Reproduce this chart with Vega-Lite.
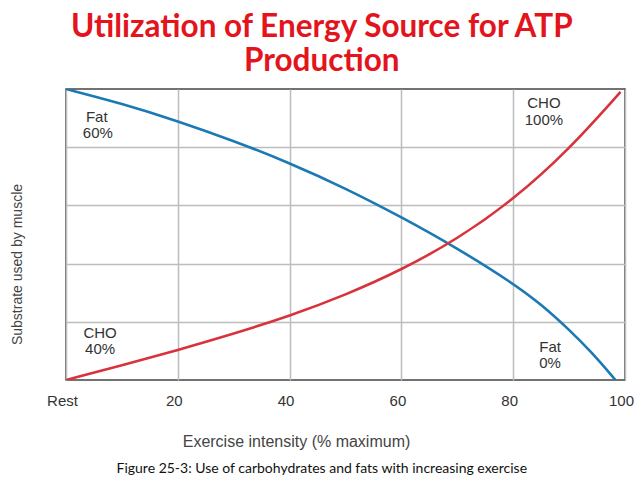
{
  "$schema": "https://vega.github.io/schema/vega-lite/v6.json",
  "background": "white",
  "padding": {"left": 9, "top": 11, "right": 5, "bottom": 0},
  "config": {
    "view": {"stroke": "#444444", "strokeWidth": 1.5},
    "font": "Liberation Sans"
  },
  "title": {
    "text": ["Utilization of Energy Source for ATP", "Production"],
    "font": "Lato",
    "fontSize": 31.5,
    "fontWeight": "bold",
    "color": "#e3141b",
    "lineHeight": 34,
    "anchor": "middle",
    "frame": "bounds",
    "offset": 11
  },
  "datasets": {
    "curves": [
      {"series": "Fat", "x": 0, "y": 100},
      {"series": "Fat", "x": 10, "y": 95.0},
      {"series": "Fat", "x": 20, "y": 89.0},
      {"series": "Fat", "x": 30, "y": 82.2},
      {"series": "Fat", "x": 40, "y": 74.6},
      {"series": "Fat", "x": 50, "y": 65.9},
      {"series": "Fat", "x": 60, "y": 56.0},
      {"series": "Fat", "x": 70, "y": 45.3},
      {"series": "Fat", "x": 80, "y": 33.2},
      {"series": "Fat", "x": 85, "y": 26.0},
      {"series": "Fat", "x": 90, "y": 17.3},
      {"series": "Fat", "x": 94, "y": 9.6},
      {"series": "Fat", "x": 98.3, "y": 0},
      {"series": "CHO", "x": 0, "y": 0},
      {"series": "CHO", "x": 10, "y": 5.0},
      {"series": "CHO", "x": 20, "y": 10.3},
      {"series": "CHO", "x": 30, "y": 15.9},
      {"series": "CHO", "x": 40, "y": 22.0},
      {"series": "CHO", "x": 50, "y": 29.2},
      {"series": "CHO", "x": 60, "y": 37.8},
      {"series": "CHO", "x": 70, "y": 48.4},
      {"series": "CHO", "x": 80, "y": 61.9},
      {"series": "CHO", "x": 90, "y": 79.2},
      {"series": "CHO", "x": 99.2, "y": 99.0}
    ],
    "labels": [
      {"label": "Fat", "x": 5.5, "y": 90.4},
      {"label": "60%", "x": 5.7, "y": 84.9},
      {"label": "CHO", "x": 6.1, "y": 16.2},
      {"label": "40%", "x": 6.1, "y": 10.7},
      {"label": "CHO", "x": 85.5, "y": 95.2},
      {"label": "100%", "x": 85.5, "y": 89.3},
      {"label": "Fat", "x": 86.6, "y": 11.3},
      {"label": "0%", "x": 86.6, "y": 5.8}
    ]
  },
  "vconcat": [
    {
      "width": 559,
      "height": 291,
      "title": {
        "text": "Figure 25-3: Use of carbohydrates and fats with increasing exercise",
        "orient": "bottom",
        "font": "Lato",
        "fontSize": 14,
        "fontWeight": "normal",
        "color": "#111111",
        "anchor": "middle",
        "frame": "bounds",
        "offset": 13
      },
      "layer": [
        {
          "data": {"name": "curves"},
          "mark": {"type": "line", "interpolate": "basis", "strokeWidth": 2.6, "clip": true},
          "encoding": {
            "x": {
              "field": "x",
              "type": "quantitative",
              "scale": {"domain": [0, 100], "nice": false},
              "axis": {
                "values": [0, 20, 40, 60, 80, 100],
                "labelExpr": "datum.value == 0 ? 'Rest' : datum.label",
                "grid": true,
                "gridColor": "#bdbdbd",
                "gridWidth": 1.5,
                "domain": false,
                "ticks": false,
                "labelFontSize": 15,
                "labelColor": "#333333",
                "labelPadding": 13,
                "labelOffset": -4,
                "labelFlush": false,
                "title": "Exercise intensity (% maximum)",
                "titleFontSize": 16,
                "titleFontWeight": "normal",
                "titleColor": "#444444",
                "titlePadding": 25,
                "titleX": 230
              }
            },
            "y": {
              "field": "y",
              "type": "quantitative",
              "scale": {"domain": [0, 100], "nice": false},
              "axis": {
                "values": [20, 40, 60, 80],
                "grid": true,
                "gridColor": "#bdbdbd",
                "gridWidth": 1.5,
                "domain": false,
                "ticks": false,
                "labels": false,
                "title": "Substrate used by muscle",
                "titleFontSize": 14,
                "titleFontWeight": "normal",
                "titleColor": "#444444",
                "titleX": -42,
                "titleY": 175
              }
            },
            "color": {
              "field": "series",
              "type": "nominal",
              "scale": {"domain": ["Fat", "CHO"], "range": ["#1b79b3", "#d8333c"]},
              "legend": null
            },
            "detail": {"field": "series"}
          }
        },
        {
          "data": {"name": "labels"},
          "mark": {"type": "text", "font": "Liberation Sans", "fontSize": 15, "color": "#333333", "align": "center", "baseline": "middle"},
          "encoding": {
            "x": {"field": "x", "type": "quantitative"},
            "y": {"field": "y", "type": "quantitative"},
            "text": {"field": "label"}
          }
        }
      ]
    }
  ]
}
